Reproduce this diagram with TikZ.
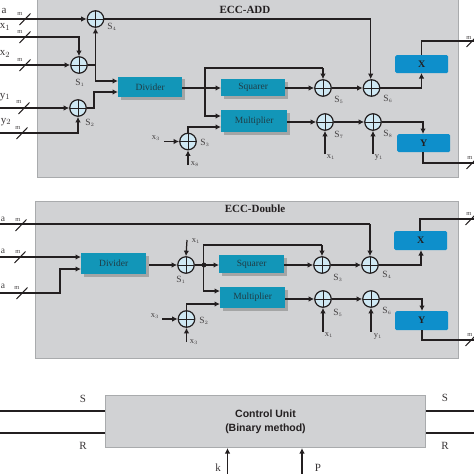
\documentclass[tikz,border=0pt]{standalone}
\usepackage{fontspec}
\setmainfont{Liberation Serif}
\newfontfamily\sansf{Liberation Sans}
\usetikzlibrary{arrows.meta,calc}
\definecolor{panel}{HTML}{D1D2D4}
\definecolor{panelb}{HTML}{A9ABAD}
\definecolor{teal}{HTML}{1296B8}
\definecolor{blu}{HTML}{0E8FCB}
\definecolor{sumf}{HTML}{CFE8F3}
\definecolor{ink}{HTML}{231F20}
\tikzset{
 wire/.style={draw=ink,line width=1.25pt},
 arr/.style={wire,-{Latex[length=5.5pt,width=5.5pt]}},
 panelbox/.style={draw=panelb,fill=panel,line width=1pt},
 reg/.style={fill=blu,text=ink,rounded corners=1.5pt,font=\fontsize{10}{11}\selectfont\bfseries,inner sep=0pt,anchor=north west},
 lab/.style={font=\fontsize{9.5}{10}\selectfont,text=ink!85,inner sep=0pt},
 big/.style={font=\fontsize{11}{12}\selectfont,text=ink!90,inner sep=0pt},
 small/.style={font=\fontsize{8.5}{9}\selectfont,text=ink!85,inner sep=0pt},
 mm/.style={font=\fontsize{6.5}{7}\selectfont,text=ink!85,inner sep=0pt},
 slash/.style={draw=ink,line width=1pt},
 title/.style={font=\fontsize{11}{12}\selectfont\bfseries,text=ink,inner sep=0pt},
 sumj/.style={circle,draw=ink,fill=sumf,line width=1.2pt,minimum size=16.5pt,inner sep=0pt,
   path picture={\draw[ink,line width=0.9pt] (path picture bounding box.north)--(path picture bounding box.south)
     (path picture bounding box.west)--(path picture bounding box.east);}},
}
\newcommand{\pbox}[6]{% name x1 y1 x2 y2 text
 \fill[gray!55!panel] (#2+2.5,#3+2.5) rectangle (#4+2.5,#5+2.5);
 \node[fill=teal,text=ink!75!teal,font=\fontsize{9.5}{10}\selectfont,inner sep=0pt,anchor=north west,minimum width=#4pt-#2pt,minimum height=#5pt-#3pt] (#1) at (#2,#3) {#6};}
\newcommand{\rbox}[6]{%
 \node[reg,minimum width=#4pt-#2pt,minimum height=#5pt-#3pt] (#1) at (#2,#3) {#6};}
\newcommand{\slashmark}[2]{\draw[slash] (#1-5.5,#2+6) -- (#1+5.5,#2-5.5);}
\begin{document}
\begin{tikzpicture}[x=1pt,y=-1pt]
\useasboundingbox (0,0) rectangle (474,474);
\clip (0,0) rectangle (474,474);
% ---------- ECC-ADD
\node[panelbox,minimum width=421.5pt,minimum height=178pt,anchor=north west,inner sep=0pt] (pa) at (36.5,-1.5) {};
\node[title] (ta) at (245,9.5) {ECC-ADD};
\node[sumj] (a4) at (95.5,19) {};
\node[sumj] (a1) at (79,65) {};
\node[sumj] (a2) at (78,108) {};
\node[sumj] (a3) at (188,141.5) {};
\node[sumj] (a5) at (323,88) {};
\node[sumj] (a6) at (371.5,88) {};
\node[sumj] (a7) at (325,122) {};
\node[sumj] (a8) at (373,122) {};
\pbox{adiv}{118}{76.5}{182}{97}{Divider}
\pbox{asq}{221}{79}{285}{96}{Squarer}
\pbox{amu}{221}{110}{287}{132}{Multiplier}
\rbox{ax}{395}{55}{448}{73}{X}
\rbox{ay}{397}{134}{450}{152}{Y}
\coordinate (ia) at (0,19); \coordinate (ib) at (0,37); \coordinate (ic) at (0,65);
\coordinate (id) at (0,108); \coordinate (ie) at (0,133);
\draw[arr] (ia) -- (a4);
\draw[arr] (ib) -| (a1);
\draw[arr] (ic) -- (a1);
\draw[arr] (id) -- (a2);
\draw[arr] (ie) -| (a2);
\draw[wire] (a4.east) -- (370.7,19) coordinate (t1);
\draw[arr] (t1) -- (t1|-a6.north);
\coordinate (j1) at (95.5,65);
\draw[wire] (a1.east) -- (j1);
\draw[arr] (95.5,81) -- (a4.south);
\draw[arr] (95.5,65) |- (118,81);
\draw[arr] (a2.east) -- (94,108) -- (94,92) -- (118,92);
\draw[arr] (182,88) -- (221,88);
\draw[arr] (205,88) -- (205,116) -- (221,116);
\draw[wire] (205,88) -- (205,68) -- (323,68);
\draw[arr] (323,68) -- (a5.north);
\draw[arr] (a3.north) -- (188,127) -- (221,127);
\coordinate (x3a) at (164,141.5); \coordinate (x8a) at (188,165);
\draw[arr] (x3a) -- (a3);
\draw[arr] (x8a) -- (a3);
\draw[arr] (asq.east|-a5) -- (a5);
\draw[arr] (a5) -- (a6);
\draw[arr] (amu.east|-a7) -- (a7);
\draw[arr] (a7) -- (a8);
\coordinate (x1a) at (325,154); \coordinate (y1a) at (373,154);
\draw[arr] (x1a) -- (a7);
\draw[arr] (y1a) -- (a8);
\draw[arr] (a6.east) -| (421.5,73);
\draw[wire] (421.5,55) |- (474,41);
\draw[arr] (a8.east) -| (423,134);
\draw[wire] (423,152) |- (474,163);
% labels
\node[big] (l1) at (4,11) {a};
\node[big] (l2) at (5,27) {x$_{\scriptstyle 1}$};
\node[big] (l3) at (5,54) {x$_{\scriptstyle 2}$};
\node[big] (l4) at (5,97) {y$_{\scriptstyle 1}$};
\node[big] (l5) at (6,122) {y$_{\scriptstyle 2}$};
\node[mm] (m1) at (20,14) {m};
\node[mm] (m2) at (20,32) {m};
\node[mm] (m3) at (20,60) {m};
\node[mm] (m4) at (19,102) {m};
\node[mm] (m5) at (18,128) {m};
\slashmark{25}{19}\slashmark{25}{37}\slashmark{25}{65}\slashmark{24}{108}\slashmark{22}{133}
\node[lab] at (112,27) {S$_{\scriptscriptstyle 4}$};
\node[lab] at (80,83) {S$_{\scriptscriptstyle 1}$};
\node[lab] at (90,123) {S$_{\scriptscriptstyle 2}$};
\node[lab] at (205,143) {S$_{\scriptscriptstyle 3}$};
\node[small] at (156,138) {x$_{\scriptscriptstyle 3}$};
\node[small] at (195,164) {x$_{\scriptscriptstyle 8}$};
\node[lab] at (339,100) {S$_{\scriptscriptstyle 5}$};
\node[lab] at (388,99) {S$_{\scriptscriptstyle 6}$};
\node[lab] at (339,135) {S$_{\scriptscriptstyle 7}$};
\node[lab] at (388,134) {S$_{\scriptscriptstyle 8}$};
\node[small] at (331,157) {x$_{\scriptscriptstyle 1}$};
\node[small] at (379,157) {y$_{\scriptscriptstyle 1}$};
\node[mm] at (469,38) {m};
\node[mm] at (470,158) {m};
\slashmark{472}{41}\slashmark{472}{163}
% ---------- ECC-Double
\node[panelbox,minimum width=423pt,minimum height=157pt,anchor=north west,inner sep=0pt] (pb) at (35,201) {};
\node[title] (tb) at (255,209) {ECC-Double};
\node[sumj] (b1) at (186,265) {};
\node[sumj] (b2) at (186.5,319) {};
\node[sumj] (b3) at (322,265) {};
\node[sumj] (b4) at (370,265) {};
\node[sumj] (b5) at (323,299) {};
\node[sumj] (b6) at (371,299) {};
\pbox{bdiv}{81}{253}{146}{274}{Divider}
\pbox{bsq}{219}{255}{284}{273}{Squarer}
\pbox{bmu}{220}{287}{285}{308}{Multiplier}
\rbox{bx}{394}{231}{447}{250}{X}
\rbox{by}{395}{311}{448}{330}{Y}
\coordinate (ja) at (0,224); \coordinate (jb) at (0,257); \coordinate (jc) at (0,293);
\draw[wire] (ja) -- (370,224);
\draw[arr] (370,224) -- (b4.north);
\draw[arr] (jb) -- (81,257);
\draw[arr] (jc) -- (60,293) -- (60,269) -- (81,269);
\draw[arr] (149,265) -- (b1);
\coordinate (x1b) at (187,240);
\draw[arr] (x1b) -- (b1.north);
\draw[arr] (b1.east) -- (219,265);
\fill[ink] (204,265) circle (2.4);
\draw[arr] (203.5,265) -- (203.5,291) -- (220,291);
\draw[wire] (203.5,265) -- (203.5,245) -- (322,245);
\draw[arr] (322,245) -- (b3.north);
\draw[arr] (b2.north) -- (186.5,304) -- (220,304);
\coordinate (x3b) at (162,319); \coordinate (x5b) at (186.5,342);
\draw[arr] (x3b) -- (b2);
\draw[arr] (x5b) -- (b2);
\draw[arr] (bsq.east|-b3) -- (b3);
\draw[arr] (b3) -- (b4);
\draw[arr] (bmu.east|-b5) -- (b5);
\draw[arr] (b5) -- (b6);
\coordinate (x1c) at (323,331.5); \coordinate (y1c) at (371,331.5);
\draw[arr] (x1c) -- (b5);
\draw[arr] (y1c) -- (b6);
\draw[arr] (b4.east) -| (421,250);
\draw[wire] (420,231) |- (474,219);
\draw[arr] (b6.east) -| (422,311);
\draw[wire] (422,330) |- (474,340);
\node[lab] at (3,219) {a};
\node[lab] at (3,251) {a};
\node[lab] at (3,286) {a};
\node[mm] at (18,220) {m};
\node[mm] at (18,252) {m};
\node[mm] at (17,288) {m};
\slashmark{21}{225}\slashmark{20}{257}\slashmark{22}{293}
\node[small] at (196,241) {x$_{\scriptscriptstyle 1}$};
\node[lab] at (181,280) {S$_{\scriptscriptstyle 1}$};
\node[lab] at (204,321) {S$_{\scriptscriptstyle 2}$};
\node[small] at (155,316) {x$_{\scriptscriptstyle 3}$};
\node[small] at (194,342) {x$_{\scriptscriptstyle 3}$};
\node[lab] at (338,278) {S$_{\scriptscriptstyle 3}$};
\node[lab] at (387,275) {S$_{\scriptscriptstyle 4}$};
\node[lab] at (338,313) {S$_{\scriptscriptstyle 5}$};
\node[lab] at (387,311) {S$_{\scriptscriptstyle 6}$};
\node[small] at (329,335) {x$_{\scriptscriptstyle 1}$};
\node[small] at (378,336) {y$_{\scriptscriptstyle 1}$};
\node[mm] at (469,214) {m};
\node[mm] at (470,335) {m};
\slashmark{471}{219}\slashmark{471}{340}
% ---------- Control Unit
\node[panelbox,minimum width=320pt,minimum height=52pt,anchor=north west,inner sep=0pt,align=center,font=\sansf\bfseries\fontsize{10.5}{14}\selectfont,text=ink] (cu) at (105,395) {Control Unit\\(Binary method)};
\coordinate (sl) at (0,411); \coordinate (rl) at (0,433); \coordinate (sr) at (474,411); \coordinate (rr) at (474,433);
\draw[wire] (sl) -- (cu.west|-sl);
\draw[wire] (rl) -- (cu.west|-rl);
\draw[wire] (sr) -- (cu.east|-sr);
\draw[wire] (rr) -- (cu.east|-rr);
\node[big] at (83,399) {S};
\node[big] at (83,446) {R};
\node[big] at (445,398) {S};
\node[big] at (445,446) {R};
\coordinate (kk) at (227.5,476); \coordinate (pp) at (302,476);
\draw[arr] (kk) -- (kk|-cu.south);
\draw[arr] (pp) -- (pp|-cu.south);
\node[big] at (218,467.5) {k};
\node[big] at (318,467.5) {P};
\end{tikzpicture}
\end{document}
